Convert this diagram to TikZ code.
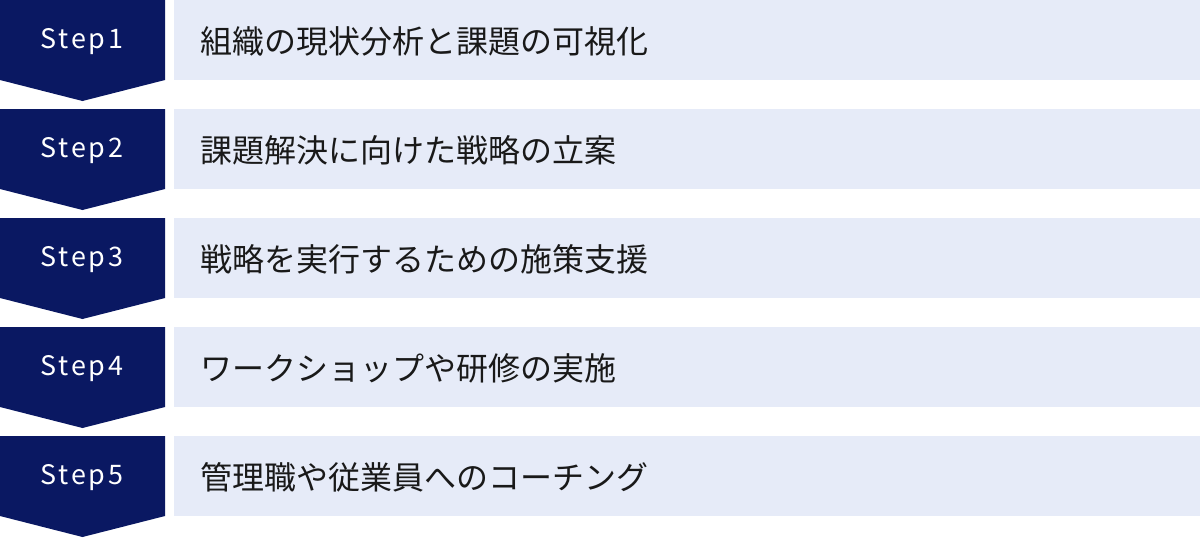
\documentclass[tikz,border=0pt]{standalone}
\usepackage{fontspec}
\setmainfont{Noto Sans CJK JP}
\newfontfamily\stepfont[LetterSpace=10]{Noto Sans CJK JP}
\definecolor{navy}{HTML}{0A1862}
\definecolor{paleblue}{HTML}{E6EBF8}

\tikzset{
  steplabel/.style={text=white, font=\stepfont\fontsize{15.3pt}{18pt}\selectfont, inner sep=0pt},
  tasklabel/.style={anchor=west, text=black!90, font=\fontsize{18.2pt}{22pt}\selectfont, inner sep=0pt},
}

\begin{document}
\begin{tikzpicture}[x=0.02cm,y=-0.02cm]
  \useasboundingbox (0,0) rectangle (1200,538);

  % one row per step
  \foreach \i/\task in {1/組織の現状分析と課題の可視化,
                        2/課題解決に向けた戦略の立案,
                        3/戦略を実行するための施策支援,
                        4/ワークショップや研修の実施,
                        5/管理職や従業員へのコーチング}{
    \pgfmathsetmacro\rowy{(\i-1)*109}
    \fill[navy] (0,\rowy) -- (165,\rowy) -- (165,\rowy+80) -- (82.5,\rowy+101) -- (0,\rowy+80) -- cycle;
    \fill[paleblue] (174,\rowy) rectangle (1200,\rowy+80);
    \node[steplabel] (step\i) at (82,\rowy+42) {Step\i};
    \node[tasklabel] (task\i) at (200,\rowy+41) {\task};
  }
\end{tikzpicture}
\end{document}
